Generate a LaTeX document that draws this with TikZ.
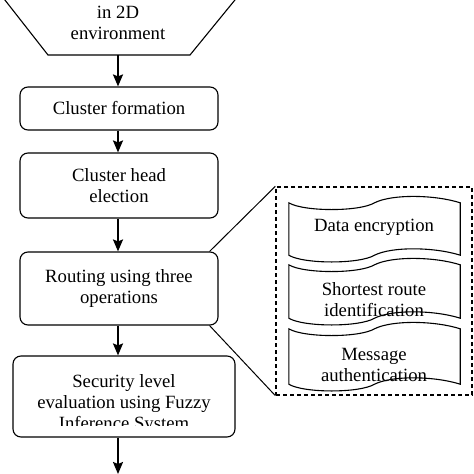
\documentclass[tikz,border=0pt]{standalone}
\usepackage{fontspec}
\setmainfont{Liberation Serif}
\usetikzlibrary{arrows.meta}

\begin{document}
\begin{tikzpicture}[x=1pt, y=-1pt,
    stagebox/.style={draw, rounded corners=8pt, line width=1.1pt, inner sep=0pt, align=center, font=\fontsize{18.7}{21}\selectfont},
    opframe/.style={rectangle, minimum width=171pt, inner sep=0pt},
    flowarrow/.style={-{Stealth[length=12pt, width=10pt, inset=2pt]}, line width=1.9pt},
    txt/.style={align=center, font=\fontsize{18.7}{21}\selectfont, inner sep=0pt}]

    \useasboundingbox (0,0) rectangle (474,474);
    \clip (0,0) rectangle (474,474);

    % input stage, cut by the top edge
    \draw[line width=1.1pt] (1,-5) -- (48,55) -- (190,55) -- (239,-5);
    \node[txt] (env) at (118,23) {in 2D\\environment};
    \coordinate (envbot) at (118,55);

    % main flow
    \node[stagebox, minimum width=198pt, minimum height=43pt] (form) at (119,108.5) {Cluster formation};
    \node[stagebox, minimum width=198pt, minimum height=65pt] (head) at (119,185.5) {Cluster head\\election};
    \node[stagebox, minimum width=198pt, minimum height=73pt] (route) at (119,288.5) {Routing using three\\operations};
    \node[stagebox, minimum width=222pt, minimum height=81pt] (fuzzy) at (124,396.5) {};
    \begin{scope}
        \clip (0,356) rectangle (474,425);
        \node[txt] (fuzzytext) at (124,404) {Security level\\evaluation using Fuzzy\\Inference System};
    \end{scope}
    \coordinate (exit) at (118,474);

    \draw[flowarrow] (envbot) -- (envbot |- form.north);
    \draw[flowarrow] (envbot |- form.south) -- (envbot |- head.north);
    \draw[flowarrow] (envbot |- head.south) -- (envbot |- route.north);
    \draw[flowarrow] (envbot |- route.south) -- (envbot |- fuzzy.north);
    \draw[flowarrow] (envbot |- fuzzy.south) -- (exit);

    % the three operations
    \node[draw, dash pattern=on 4pt off 3pt, line width=1.3pt, minimum width=196pt, minimum height=208pt] (ops) at (374,291) {};
    \draw[line width=1pt] ([xshift=-9pt]route.north east) -- (ops.north west);
    \draw[line width=1pt] ([xshift=-9pt]route.south east) -- (ops.south west);

    \node[opframe, minimum height=52pt] (enc) at (374.5,229) {};
    \node[opframe, minimum height=53pt] (path) at (374.5,291.5) {};
    \node[opframe, minimum height=55pt] (auth) at (374.5,356.5) {};
    \foreach \n in {enc,path,auth}
        \draw[line width=1.1pt] (\n.north west) .. controls +(15,9) and +(-15,9) .. (\n.north)
            .. controls +(18,-9) and +(-25,-8) .. (\n.north east) -- (\n.south east)
            .. controls +(-25,-8) and +(18,-9) .. (\n.south)
            .. controls +(-15,9) and +(15,9) .. (\n.south west) -- cycle;
    \node[txt] (enctext) at (374,227) {Data encryption};
    \node[txt] (pathtext) at (374,300) {Shortest route\\identification};
    \node[txt] (authtext) at (374,365) {Message\\authentication};
\end{tikzpicture}
\end{document}
